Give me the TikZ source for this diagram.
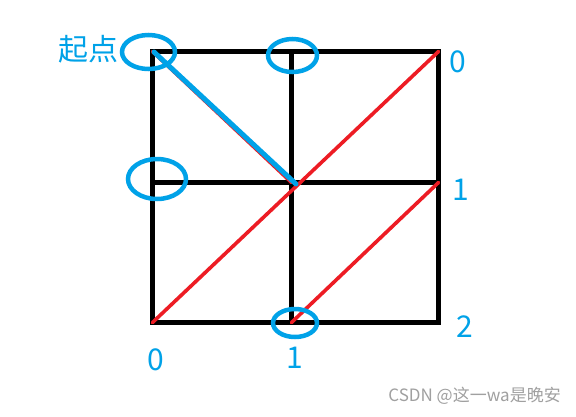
\documentclass[tikz,border=0pt]{standalone}
\usepackage{fontspec}
\setmainfont{Noto Sans CJK SC}
\usetikzlibrary{shapes.geometric}
\definecolor{pblue}{HTML}{00A2E8}
\definecolor{pred}{HTML}{ED1C24}
\definecolor{wmgray}{HTML}{A0A0A0}
\begin{document}
\begin{tikzpicture}[x=1pt,y=-1pt,
  grid/.style={line width=5pt,black},
  redline/.style={line width=3.6pt,pred,line cap=round},
  blueline/.style={line width=5pt,pblue,line cap=round},
  ring/.style={ellipse,draw=pblue,line width=4.5pt,inner sep=0pt},
  lab/.style={text=pblue,font=\fontsize{30}{36}\selectfont,inner sep=0pt},
  wm/.style={text=wmgray,font=\fontsize{17}{20}\selectfont,inner sep=0pt}]
\useasboundingbox[fill=white] (0,0) rectangle (576,416);
% grid points
\coordinate (TL) at (152.5,51.5);
\coordinate (TM) at (291.5,51.5);
\coordinate (TR) at (438.5,51.5);
\coordinate (ML) at (152.5,182.5);
\coordinate (MM) at (291.5,182.5);
\coordinate (MR) at (438.5,182.5);
\coordinate (BL) at (152.5,322.5);
\coordinate (BM) at (291.5,322.5);
\coordinate (BR) at (438.5,322.5);
% grid
\draw[grid,line join=miter] (TL) rectangle (BR);
\draw[grid] (TM) -- (BM);
\draw[grid] (ML) -- (MR);
% red paths
\draw[redline] (BL) -- (TR);
\draw[redline] (BM) -- (MR);
\draw[redline] (TL) -- (MM);
% blue path
\draw[blueline] (154,52) -- (296,184);
% rings
\node[ring,minimum width=53pt,minimum height=34pt] (r1) at (148.5,52) {};
\node[ring,minimum width=49pt,minimum height=33pt] (r2) at (292.5,55.5) {};
\node[ring,minimum width=58pt,minimum height=40pt] (r3) at (157,179) {};
\node[ring,minimum width=44pt,minimum height=28pt] (r4) at (295,323) {};
% labels
\node[lab] (start) at (88,49) {起点};
\node[lab] (l0r) at (457.5,62) {0};
\node[lab] (l1r) at (461,190) {1};
\node[lab] (l2r) at (464.5,326.5) {2};
\node[lab] (l0b) at (155.5,360) {0};
\node[lab] (l1b) at (295,358) {1};
\node[wm,anchor=east] (wmk) at (561,396) {CSDN @这一wa是晚安};
\end{tikzpicture}
\end{document}
